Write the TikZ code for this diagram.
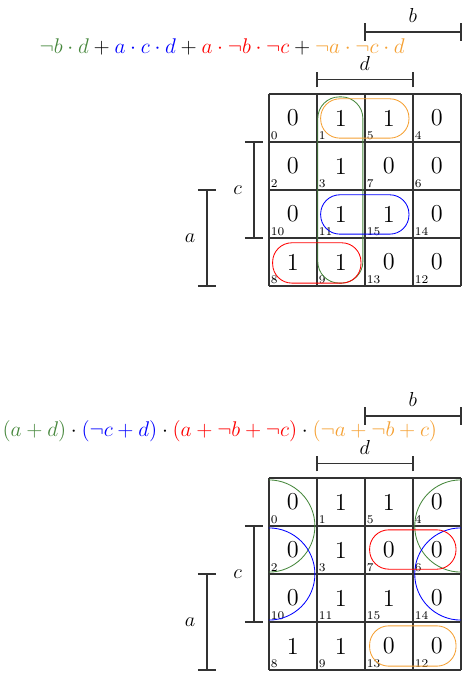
\documentclass[tikz,border=0pt]{standalone}
\usepackage{fix-cm}
\usepackage{amsmath}
\usepackage{amssymb}
\usepackage{tikz}
\usepackage{xcolor}

\definecolor{kgreen}{RGB}{70,135,60}
\definecolor{korange}{RGB}{245,160,50}

\begin{document}
\begin{tikzpicture}[val/.style={font=\Large},
  idx/.style={font=\scriptsize,anchor=south west,inner sep=1pt},
  lbl/.style={font=\large,inner sep=1pt},
  frm/.style={font=\fontsize{12.6}{15}\selectfont,inner sep=1pt},
  kgrid/.style={line width=0.9pt,black!80},
  imp/.style={line width=0.5pt}]
\useasboundingbox (0,0) rectangle (9.875,14.208);

% first map: sum of products
\node[frm] (f1) at (4.63,13.23) {$\textcolor{kgreen}{\neg b\cdot d}+\textcolor{blue}{a\cdot c\cdot d}+\textcolor{red}{a\cdot\neg b\cdot\neg c}+\textcolor{korange}{\neg a\cdot\neg c\cdot d}$};
\begin{scope}[shift={(5.6,12.25)}]
\draw[kgrid] (0,-4) grid (4,0);
\draw[kgrid] (2,1.29) -- (4,1.29);
\draw[kgrid] (2,1.11) -- (2,1.47);
\draw[kgrid] (4,1.11) -- (4,1.47);
\node[lbl] (lb1) at (3,1.63) {$b$};
\draw[kgrid] (1,0.3) -- (3,0.3);
\draw[kgrid] (1,0.14) -- (1,0.46);
\draw[kgrid] (3,0.14) -- (3,0.46);
\node[lbl] (ld1) at (2,0.63) {$d$};
\draw[kgrid] (-0.31,-1) -- (-0.31,-3);
\draw[kgrid] (-0.5,-1) -- (-0.12,-1);
\draw[kgrid] (-0.5,-3) -- (-0.12,-3);
\node[lbl] (lc1) at (-0.65,-2) {$c$};
\draw[kgrid] (-1.29,-2) -- (-1.29,-4);
\draw[kgrid] (-1.48,-2) -- (-1.1,-2);
\draw[kgrid] (-1.48,-4) -- (-1.1,-4);
\node[lbl] (la1) at (-1.64,-3) {$a$};

\node[val] (t0) at (0.5,-0.5) {0};   \node[idx] (ti0) at (0,-0.99) {0};
\node[val] (t1) at (1.5,-0.5) {1};   \node[idx] (ti1) at (1,-0.99) {1};
\node[val] (t5) at (2.5,-0.5) {1};   \node[idx] (ti5) at (2,-0.99) {5};
\node[val] (t4) at (3.5,-0.5) {0};   \node[idx] (ti4) at (3,-0.99) {4};
\node[val] (t2) at (0.5,-1.5) {0};   \node[idx] (ti2) at (0,-1.99) {2};
\node[val] (t3) at (1.5,-1.5) {1};   \node[idx] (ti3) at (1,-1.99) {3};
\node[val] (t7) at (2.5,-1.5) {0};   \node[idx] (ti7) at (2,-1.99) {7};
\node[val] (t6) at (3.5,-1.5) {0};   \node[idx] (ti6) at (3,-1.99) {6};
\node[val] (t10) at (0.5,-2.5) {0};  \node[idx] (ti10) at (0,-2.99) {10};
\node[val] (t11) at (1.5,-2.5) {1};  \node[idx] (ti11) at (1,-2.99) {11};
\node[val] (t15) at (2.5,-2.5) {1};  \node[idx] (ti15) at (2,-2.99) {15};
\node[val] (t14) at (3.5,-2.5) {0};  \node[idx] (ti14) at (3,-2.99) {14};
\node[val] (t8) at (0.5,-3.5) {1};   \node[idx] (ti8) at (0,-3.99) {8};
\node[val] (t9) at (1.5,-3.5) {1};   \node[idx] (ti9) at (1,-3.99) {9};
\node[val] (t13) at (2.5,-3.5) {0};  \node[idx] (ti13) at (2,-3.99) {13};
\node[val] (t12) at (3.5,-3.5) {0};  \node[idx] (ti12) at (3,-3.99) {12};

\draw[kgreen,imp,rounded corners=0.45cm] (1.02,-0.06) rectangle (1.96,-3.94);
\draw[korange,imp,rounded corners=0.4cm] (1.08,-0.1) rectangle (2.92,-0.92);
\draw[blue,imp,rounded corners=0.4cm] (1.08,-2.1) rectangle (2.92,-2.92);
\draw[red,imp,rounded corners=0.4cm] (0.08,-3.1) rectangle (1.92,-3.94);
\end{scope}

% second map: product of sums
\node[frm] (f2) at (4.58,5.23) {$\textcolor{kgreen}{(a+d)}\cdot\textcolor{blue}{(\neg c+d)}\cdot\textcolor{red}{(a+\neg b+\neg c)}\cdot\textcolor{korange}{(\neg a+\neg b+c)}$};
\begin{scope}[shift={(5.6,4.25)}]
\draw[kgrid] (0,-4) grid (4,0);
\draw[kgrid] (2,1.29) -- (4,1.29);
\draw[kgrid] (2,1.11) -- (2,1.47);
\draw[kgrid] (4,1.11) -- (4,1.47);
\node[lbl] (lb2) at (3,1.63) {$b$};
\draw[kgrid] (1,0.3) -- (3,0.3);
\draw[kgrid] (1,0.14) -- (1,0.46);
\draw[kgrid] (3,0.14) -- (3,0.46);
\node[lbl] (ld2) at (2,0.63) {$d$};
\draw[kgrid] (-0.31,-1) -- (-0.31,-3);
\draw[kgrid] (-0.5,-1) -- (-0.12,-1);
\draw[kgrid] (-0.5,-3) -- (-0.12,-3);
\node[lbl] (lc2) at (-0.65,-2) {$c$};
\draw[kgrid] (-1.29,-2) -- (-1.29,-4);
\draw[kgrid] (-1.48,-2) -- (-1.1,-2);
\draw[kgrid] (-1.48,-4) -- (-1.1,-4);
\node[lbl] (la2) at (-1.64,-3) {$a$};

\node[val] (u0) at (0.5,-0.5) {0};   \node[idx] (ui0) at (0,-0.99) {0};
\node[val] (u1) at (1.5,-0.5) {1};   \node[idx] (ui1) at (1,-0.99) {1};
\node[val] (u5) at (2.5,-0.5) {1};   \node[idx] (ui5) at (2,-0.99) {5};
\node[val] (u4) at (3.5,-0.5) {0};   \node[idx] (ui4) at (3,-0.99) {4};
\node[val] (u2) at (0.5,-1.5) {0};   \node[idx] (ui2) at (0,-1.99) {2};
\node[val] (u3) at (1.5,-1.5) {1};   \node[idx] (ui3) at (1,-1.99) {3};
\node[val] (u7) at (2.5,-1.5) {0};   \node[idx] (ui7) at (2,-1.99) {7};
\node[val] (u6) at (3.5,-1.5) {0};   \node[idx] (ui6) at (3,-1.99) {6};
\node[val] (u10) at (0.5,-2.5) {0};  \node[idx] (ui10) at (0,-2.99) {10};
\node[val] (u11) at (1.5,-2.5) {1};  \node[idx] (ui11) at (1,-2.99) {11};
\node[val] (u15) at (2.5,-2.5) {1};  \node[idx] (ui15) at (2,-2.99) {15};
\node[val] (u14) at (3.5,-2.5) {0};  \node[idx] (ui14) at (3,-2.99) {14};
\node[val] (u8) at (0.5,-3.5) {1};   \node[idx] (ui8) at (0,-3.99) {8};
\node[val] (u9) at (1.5,-3.5) {1};   \node[idx] (ui9) at (1,-3.99) {9};
\node[val] (u13) at (2.5,-3.5) {0};  \node[idx] (ui13) at (2,-3.99) {13};
\node[val] (u12) at (3.5,-3.5) {0};  \node[idx] (ui12) at (3,-3.99) {12};

\draw[kgreen,imp] (0,-0.04) arc[start angle=90,end angle=-90,x radius=0.96,y radius=0.96];
\draw[kgreen,imp] (4,-0.04) arc[start angle=90,end angle=270,x radius=0.96,y radius=0.96];
\draw[blue,imp] (0,-1.04) arc[start angle=90,end angle=-90,x radius=0.96,y radius=0.96];
\draw[blue,imp] (4,-1.04) arc[start angle=90,end angle=270,x radius=0.96,y radius=0.96];
\draw[red,imp,rounded corners=0.4cm] (2.1,-1.08) rectangle (3.9,-1.9);
\draw[korange,imp,rounded corners=0.4cm] (2.1,-3.08) rectangle (3.9,-3.92);
\end{scope}
\end{tikzpicture}
\end{document}
